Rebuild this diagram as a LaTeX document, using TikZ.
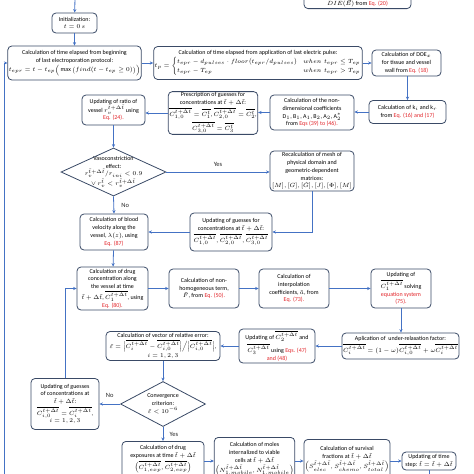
\documentclass[tikz,border=0pt]{standalone}
\usepackage{amsmath}
\usepackage{fontspec}
\setmainfont{Carlito}
\usepackage{tikz}
\usetikzlibrary{shapes.geometric,arrows.meta}
\definecolor{boxc}{HTML}{3A4A66}
\definecolor{arrc}{HTML}{4472C4}
\definecolor{eqred}{HTML}{E3262B}
\def\rf#1{\textcolor{eqred}{#1}}
\def\tdt{\tilde{t}+\Delta\tilde{t}}
\tikzset{
	blockbox/.style={draw=boxc, line width=0.8pt, rounded corners=4pt, fill=white, align=center, inner sep=1pt, font=\fontsize{6}{7.8}\selectfont},
	decision/.style={draw=boxc, line width=0.8pt, shape=diamond, inner sep=0pt, fill=white},
	dectext/.style={align=center, inner sep=0pt, font=\fontsize{6}{7.8}\selectfont},
	flowarrow/.style={draw=arrc, line width=0.8pt, -{Stealth[length=3.5pt,width=3.2pt]}},
	lbl/.style={font=\fontsize{6.5}{7}\selectfont, text=black!85},
}
\begin{document}
\begin{tikzpicture}[x=1pt, y=-1pt]
		%%%%% START %%%%%
		\useasboundingbox (0,0) rectangle (474,474);
		
		\node[blockbox, minimum width=107pt, minimum height=24pt, anchor=south] (die) at (357.5,9) {};
		\node[dectext] (dietext) at (357.5,3.5) {$DIE(\vec{E})$ from \rf{Eq. (20)}};
		\coordinate (start) at (75,-3);
		
		\node[blockbox, minimum width=45pt, minimum height=20pt] (init) at (74.5,23) {Initialization:\\ $t=0\,s$};
		\node[blockbox, minimum width=125pt, minimum height=34pt] (tepr) at (74.5,63) {Calculation of time elapsed from beginning\\ of last electroporation protocol:\\[1pt] $t_{epr}=t-t_{ep}\Big(\max\big(find(t-t_{ep}\geq 0)\big)\Big)$};
		\node[blockbox, minimum width=192pt, minimum height=33pt] (tp) at (258,63) {Calculation of time elapsed from application of last electric pulse:\\ $t_p=\begin{cases} t_{epr}-d_{pulses}\cdot floor\big(t_{epr}/d_{pulses}\big) & when\ \ t_{epr}\leq T_{ep}\\ t_{epr}-T_{ep} & when\ \ t_{epr}>T_{ep}\end{cases}$};
		\node[blockbox, minimum width=69pt, minimum height=26pt] (doe) at (406.5,63) {Calculation of DOE$_x$\\ for tissue and vessel\\ wall from \rf{Eq. (18)}};
		
		\node[blockbox, minimum width=77pt, minimum height=23pt] (kcoef) at (407.5,112) {Calculation of k$_i$ and k$_r$\\ from \rf{Eq. (16) and (17)}};
		\node[blockbox, minimum width=84pt, minimum height=35pt] (nondim) at (312,112.5) {Calculation of the non-\\dimensional coefficients\\ D$_1$, B$_1$, A$_1$, B$_2$, A$_2$, A$_2^*$\\ from \rf{Eqs (39) to (46).}};
		\node[blockbox, minimum width=82pt, minimum height=36pt] (prescr) at (213,113) {Prescription of guesses for\\ concentrations at $\tdt$:\\[1pt] $\overline{C_{1,0}^{\tdt}}=\overline{C_1^{\tilde{t}}}$, $\overline{C_{2,0}^{\tdt}}=\overline{C_2^{\tilde{t}}}$,\\[1pt] $\overline{C_{3,0}^{\tdt}}=\overline{C_3^{\tilde{t}}}$};
		\node[blockbox, minimum width=63pt, minimum height=30pt] (ratio) at (113.5,110) {Updating of ratio of\\ vessel $r_v^{\tdt}$ using\\ \rf{Eq. (24).}};
		
		\node[decision, minimum width=105pt, minimum height=48pt] (vaso) at (113.5,172) {};
		\node[dectext] (vasotext) at (vaso.center) {Vasoconstriction\\ effect:\\ $r_v^{\tdt}/r_{ini}<0.9$\\ $\vee\ r_v^{\tilde{t}}<r_v^{\tdt}$};
		\node[blockbox, minimum width=84pt, minimum height=40pt] (recalc) at (312,171) {Recalculation of mesh of\\ physical domain and\\ geometric-dependent\\ matrices:\\ $[M], [G], [\hat{G}], [J], [\Phi], [M]$};
		
		\node[blockbox, minimum width=82pt, minimum height=38pt] (guess) at (231,232) {Updating of guesses for\\ concentrations at $\tdt$:\\[1pt] $\overline{C_{1,0}^{\tdt}}, \overline{C_{2,0}^{\tdt}}, \overline{C_{3,0}^{\tdt}}$};
		\node[blockbox, minimum width=68pt, minimum height=36pt] (blood) at (114,232) {Calculation of blood\\ velocity along the\\ vessel, $\lambda(z)$, using\\ \rf{Eq. (87)}};
		
		\node[blockbox, minimum width=71pt, minimum height=43pt] (drug) at (112.5,288.5) {Calculation of drug\\ concentration along\\ the vessel at time\\[1pt] $\tdt$, $\overline{C_1^{\tdt}}$, using\\ \rf{Eq. (80).}};
		\node[blockbox, minimum width=70pt, minimum height=39pt] (nonhom) at (204,288.5) {Calculation of non-\\homogeneous term,\\ $\tilde{F}$, from \rf{Eq. (50).}};
		\node[blockbox, minimum width=70pt, minimum height=39pt] (interp) at (294,288.5) {Calculation of\\ interpolation\\ coefficients, $\tilde{a}$, from\\ \rf{Eq. (73).}};
		\node[blockbox, minimum width=60pt, minimum height=39pt] (upd1) at (401,288.5) {Updating of\\[1pt] $\overline{C_1^{\tdt}}$ solving\\ \rf{equation system}\\ \rf{(75).}};
		
		\node[blockbox, minimum width=117pt, minimum height=26pt] (relax) at (400.5,346) {Aplication of \ under-relaxation factor:\\[1pt] $\overline{C_i^{\tdt}}=(1-\omega)\overline{C_{i,0}^{\tdt}}+\omega\overline{C_i^{\tdt}}$};
		\node[blockbox, minimum width=76pt, minimum height=34pt] (upd23) at (277,346) {Updating of $\overline{C_2^{\tdt}}$ and\\[1pt] $\overline{C_3^{\tdt}}$ using \rf{Eqs. (47)}\\ \rf{and (48)}};
		\node[blockbox, minimum width=114pt, minimum height=29pt] (err) at (163,346) {Calculation of vector of relative error:\\[1pt] $\tilde{\varepsilon}=\Big|\overline{C_i^{\tdt}}-\overline{C_{i,0}^{\tdt}}\Big|\Big/\Big|\overline{C_{i,0}^{\tdt}}\Big|$,\\ $i=1,2,3$};
		
		\node[decision, minimum width=85pt, minimum height=45pt] (conv) at (163,404) {};
		\node[dectext] (convtext) at (conv.center) {Convergence\\ criterion:\\ $\tilde{\varepsilon}<10^{-6}$};
		\node[blockbox, minimum width=68pt, minimum height=51pt] (guess2) at (65,404) {Updating of guesses\\ of concentrations at\\ $\tdt$:\\[1pt] $\overline{C_{i,0}^{\tdt}}=\overline{C_i^{\tdt}}$,\\ $i=1,2,3$};
		
		\node[blockbox, minimum width=82pt, minimum height=40pt, anchor=north] (expo) at (163,441) {Calculation of drug\\ exposures at time $\tdt$\\[1pt] $\Big(\overline{C_{1,exp}^{\tdt}}, \overline{C_{2,exp}^{\tdt}}\Big)$\\ \ };
		\node[blockbox, minimum width=71pt, minimum height=48pt, anchor=north] (moles) at (254.5,437) {Calculation of moles\\ internalized to viable\\ cells at $\tdt$\\[1pt] $\Big(N_{1,mobile}^{\tdt}, N_{1,mobile}^{\tdt}\Big)$\\ \ };
		\node[blockbox, minimum width=74pt, minimum height=44pt, anchor=north] (surv) at (347,439) {Calculation of survival\\ fractions at $\tdt$\\[1pt] $\Big(S_{elec}^{\tdt}, S_{chemo}^{\tdt}, S_{total}^{\tdt}\Big)$\\ \ };
		\node[blockbox, minimum width=54pt, minimum height=18pt] (tstep) at (429,461) {Updating of time\\ step: $\tilde{t}=\tilde{t}+\Delta\tilde{t}$};
		\coordinate (loopa) at (429,480);
		\coordinate (loopb) at (4,480);
		
		\draw[flowarrow] (start) -- (init);
		\draw[flowarrow] (init) -- (tepr);
		\draw[flowarrow] (tepr) -- (tp);
		\draw[flowarrow] (tp) -- (doe);
		\draw[flowarrow] (doe.south -| kcoef.north) -- (kcoef.north);
		\draw[flowarrow] (kcoef) -- (kcoef -| nondim.east);
		\draw[flowarrow] (nondim.west) -- (nondim.west -| prescr.east);
		\draw[flowarrow] (prescr.west) -- (prescr.west -| ratio.east);
		\draw[flowarrow] (ratio) -- (vaso);
		
		\draw[flowarrow] (vaso.east) -- (vaso.east -| recalc.west) node[lbl, midway, above=2pt] {Yes};
		\draw[flowarrow] (vaso.south) -- (blood.north) node[lbl, midway, right=4pt] {No};
		\draw[flowarrow] (recalc.south) |- (guess.east);
		\draw[flowarrow] (guess) -- (blood);
		\draw[flowarrow] (blood) -- (drug);
		
		\draw[flowarrow] (drug) -- (nonhom);
		\draw[flowarrow] (nonhom) -- (interp);
		\draw[flowarrow] (interp) -- (upd1);
		\draw[flowarrow] (upd1.south) -- (upd1.south |- relax.north);
		\draw[flowarrow] (relax) -- (upd23);
		\draw[flowarrow] (upd23) -- (err);
		\draw[flowarrow] (err) -- (conv);
		
		\draw[flowarrow] (conv.west) -- (guess2.east) node[lbl, midway, above=3pt] {No};
		\draw[flowarrow] (guess2.north) |- (drug.west);
		\draw[flowarrow] (conv.south) -- (expo.north) node[lbl, midway, right=3pt] {Yes};
		
		\draw[flowarrow] (expo.east |- tstep) -- (moles.west |- tstep);
		\draw[flowarrow] (moles.east |- tstep) -- (surv.west |- tstep);
		\draw[flowarrow] (surv.east |- tstep) -- (tstep.west);
		\draw[flowarrow] (tstep.south) -- (loopa) -- (loopb) |- (tepr.west);
		
		%%%%% END %%%%%
\end{tikzpicture}
\end{document}
